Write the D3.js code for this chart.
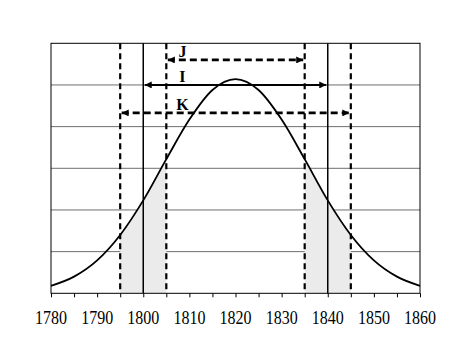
<!DOCTYPE html>
<html><head><meta charset="utf-8">
<script src="https://cdn.jsdelivr.net/npm/d3@7"></script>
<style>body{margin:0;background:#fff}svg{display:block}</style>
</head><body>
<svg id="c" width="474" height="355"></svg>
<script>
// data
const years = [1780,1785,1790,1795,1800,1805,1810,1815,1820,1825,1830,1835,1840,1845,1850,1855,1860];
const density = [0.18,0.40,0.79,1.40,2.23,3.22,4.17,4.88,5.14,4.88,4.17,3.22,2.23,1.40,0.79,0.40,0.18];
const tickYears = [1780,1790,1800,1810,1820,1830,1840,1850,1860];
const minorTicks = [1780,1785,1790,1795,1800,1805,1810,1815,1820,1825,1830,1835,1840,1845,1850,1855,1860];
const gridLevels = [1,2,3,4,5];
const dashedYears = [1795,1805,1835,1845];
const solidYears = [1800,1840];
const shadedRanges = [[1795,1805],[1835,1845]];
const spanLabels = ["J","I","K"];
const spanFrom = [1805,1800,1795];
const spanTo = [1835,1840,1845];
const spanLevel = [5.6,5.0,4.33];
const spanDashed = [true,false,true];
const labelYear = 1808.5;

const svg = d3.select("#c");
const L=51, R=420, T=43.3, B=293.3;
const x = d3.scaleLinear().domain([1780,1860]).range([L,R]);
const y = d3.scaleLinear().domain([0,6]).range([B,T]);

const defs = svg.append("defs");
["a","b"].forEach((id,i)=>{
  const m = defs.append("marker").attr("id","arr"+id).attr("viewBox","0 0 10 10")
    .attr("refX",10).attr("refY",5).attr("markerWidth",7).attr("markerHeight",7)
    .attr("markerUnits","userSpaceOnUse").attr("orient","auto-start-reverse");
  m.append("path").attr("d","M0,0L10,5L0,10Z").attr("fill","#000");
});

// gridlines
svg.append("g").selectAll("line").data(gridLevels).join("line")
  .attr("x1",L).attr("x2",R).attr("y1",d=>y(d)).attr("y2",d=>y(d))
  .attr("stroke","#6e6e6e").attr("stroke-width",1);

// shaded areas
const area = d3.area().x((d,i)=>x(years[i])).y0(y(0)).y1(d=>y(d)).curve(d3.curveMonotoneX);
shadedRanges.forEach((r,k)=>{
  defs.append("clipPath").attr("id","clip"+k).append("rect")
    .attr("x",x(r[0])).attr("width",x(r[1])-x(r[0])).attr("y",T).attr("height",B-T);
  svg.append("path").attr("d",area(density)).attr("fill","#ebebeb").attr("clip-path",`url(#clip${k})`);
});

// frame
svg.append("rect").attr("x",L).attr("y",T).attr("width",R-L).attr("height",B-T)
  .attr("fill","none").attr("stroke","#000").attr("stroke-width",1);

// curve
const line = d3.line().x((d,i)=>x(years[i])).y(d=>y(d)).curve(d3.curveMonotoneX);
svg.append("path").attr("d",line(density)).attr("fill","none").attr("stroke","#000").attr("stroke-width",1.8);

// vertical lines
svg.append("g").selectAll("line").data(dashedYears).join("line")
  .attr("x1",d=>x(d)).attr("x2",d=>x(d)).attr("y1",T).attr("y2",B)
  .attr("stroke","#000").attr("stroke-width",2.2).attr("stroke-dasharray","6,4");
svg.append("g").selectAll("line").data(solidYears).join("line")
  .attr("x1",d=>x(d)).attr("x2",d=>x(d)).attr("y1",T).attr("y2",B)
  .attr("stroke","#000").attr("stroke-width",1.5);

// spans
spanLabels.forEach((lab,i)=>{
  const yy = y(spanLevel[i]);
  svg.append("line").attr("x1",x(spanFrom[i])+1.5).attr("x2",x(spanTo[i])-1.5)
    .attr("y1",yy).attr("y2",yy).attr("stroke","#000")
    .attr("stroke-width",spanDashed[i]?2.8:2)
    .attr("stroke-dasharray",spanDashed[i]?"7,4":null)
    .attr("marker-start","url(#arra)").attr("marker-end","url(#arrb)");
  svg.append("text").attr("x",x(labelYear)).attr("y",yy-2.5)
    .attr("text-anchor","middle").attr("font-family","Liberation Serif")
    .attr("font-weight","bold").attr("font-size",16).text(lab);
});

// x axis
const ax = svg.append("g").attr("transform",`translate(0,${B})`)
  .call(d3.axisBottom(x).tickValues(minorTicks).tickSize(4).tickFormat(""));
ax.select(".domain").remove();
ax.selectAll("line").attr("stroke","#000");
svg.append("g").selectAll("text").data(tickYears).join("text")
  .attr("x",d=>x(d)).attr("y",324).attr("text-anchor","middle")
  .attr("font-family","Liberation Serif").attr("font-size",18)
  .attr("textLength",32).attr("lengthAdjust","spacingAndGlyphs").text(d=>d);
</script>
</body></html>
